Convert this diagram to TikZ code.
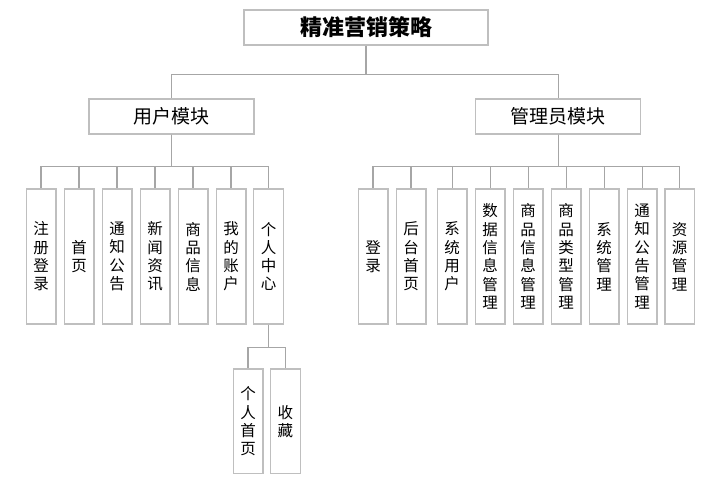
\documentclass[tikz,border=0pt]{standalone}
\usepackage{fontspec}
\setmainfont{Noto Sans CJK SC}
\begin{document}
\begin{tikzpicture}[x=1pt,y=-1pt,
  box/.style={draw=boxgray,line width=1.3pt,fill=white,inner sep=0pt,align=center,text=black},
  titlebox/.style={box,minimum width=244pt,minimum height=35pt,font=\fontsize{22}{26}\selectfont\bfseries},
  modbox/.style={box,minimum width=165pt,minimum height=35pt,font=\fontsize{19}{23}\selectfont},
  leaf/.style={box,minimum width=29.7pt,minimum height=135pt,font=\fontsize{15.5}{18.3}\selectfont},
  subleaf/.style={box,minimum width=29.7pt,minimum height=104.7pt,font=\fontsize{15.5}{18.3}\selectfont},
  conn/.style={draw=linegray,line width=1.1pt}]
\definecolor{boxgray}{HTML}{BFBFBF}
\definecolor{linegray}{HTML}{A6A6A6}
\useasboundingbox (0,0) rectangle (721,488);
\fill[white] (0,0) rectangle (721,488);

\node[titlebox] (top) at (366,27.5) {精准营销策略};
\node[modbox] (user) at (171.5,116.5) {用户模块};
\node[modbox] (admin) at (558.3,116.5) {管理员模块};

\node[leaf] (u1) at (41,256.5) {注\\册\\登\\录};
\node[leaf] (u2) at (79,256.5) {首\\页};
\node[leaf] (u3) at (117,256.5) {通\\知\\公\\告};
\node[leaf] (u4) at (155,256.5) {新\\闻\\资\\讯};
\node[leaf] (u5) at (193,256.5) {商\\品\\信\\息};
\node[leaf] (u6) at (231,256.5) {我\\的\\账\\户};
\node[leaf] (u7) at (268.5,256.5) {个\\人\\中\\心};

\node[leaf] (a1) at (373,256.5) {登\\录};
\node[leaf] (a2) at (411,256.5) {后\\台\\首\\页};
\node[leaf] (a3) at (452.2,256.5) {系\\统\\用\\户};
\node[leaf] (a4) at (490.2,256.5) {数\\据\\信\\息\\管\\理};
\node[leaf] (a5) at (528.2,256.5) {商\\品\\信\\息\\管\\理};
\node[leaf] (a6) at (566.2,256.5) {商\\品\\类\\型\\管\\理};
\node[leaf] (a7) at (604.2,256.5) {系\\统\\管\\理};
\node[leaf] (a8) at (642.2,256.5) {通\\知\\公\\告\\管\\理};
\node[leaf] (a9) at (679.7,256.5) {资\\源\\管\\理};

\node[subleaf] (s1) at (248,421.3) {个\\人\\首\\页};
\node[subleaf] (s2) at (285.3,421.3) {收\\藏};

\foreach \c in {user,admin} \draw[conn] (top.south) -- ++(0,29) -| (\c.north);
\foreach \c in {u1,u2,u3,u4,u5,u6,u7} \draw[conn] (user.south) -- ++(0,32) -| (\c.north);
\foreach \c in {a1,a2,a3,a4,a5,a6,a7,a8,a9} \draw[conn] (admin.south) -- ++(0,32) -| (\c.north);
\foreach \c in {s1,s2} \draw[conn] (u7.south) -- ++(0,23) -| (\c.north);
\end{tikzpicture}
\end{document}
